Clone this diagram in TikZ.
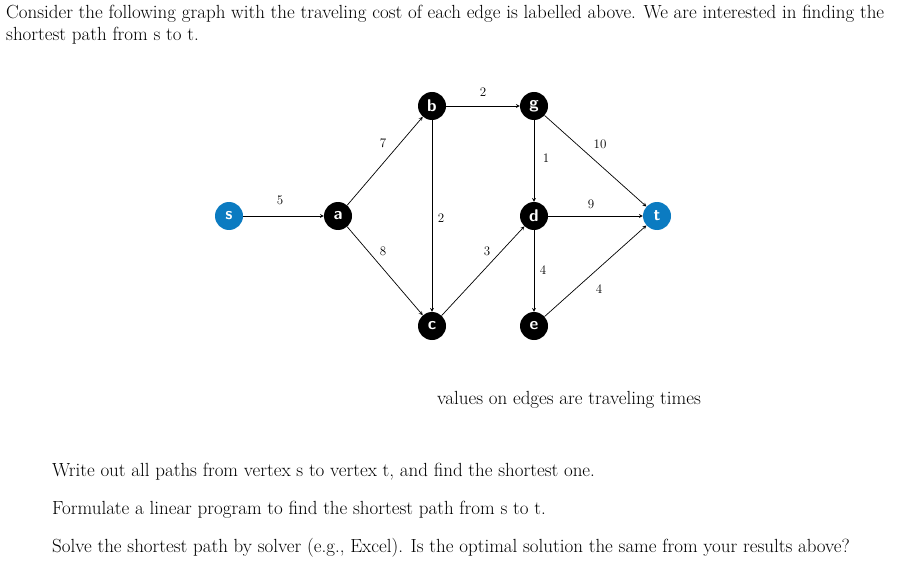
\documentclass[tikz,border=0pt]{standalone}
\usepackage{fontspec}
\definecolor{nb}{HTML}{0B7BC1}
\begin{document}
\begin{tikzpicture}[x=1pt,y=-1pt,
 v/.style={circle,fill=black,minimum size=28pt,inner sep=0pt,text=white,font=\sffamily\bfseries\fontsize{17}{17}\selectfont},
 st/.style={v,fill=nb},
 e/.style={-stealth,line width=0.7pt},
 w/.style={font=\fontsize{13}{13}\selectfont},
 txt/.style={anchor=north west,align=justify,font=\fontsize{19}{22}\selectfont,inner sep=0pt}]
\useasboundingbox (0,0) rectangle (907,588);
\node[txt,text width=878pt] (p) at (6,5) {Consider the following graph with the traveling cost of each edge is labelled above. We are interested in finding the shortest path from s to t.};
\node[st] (s) at (229,216) {s};
\node[v] (a) at (338,216) {a};
\node[v] (b) at (432,106) {b};
\node[v] (g) at (534,106) {g};
\node[v] (d) at (534,216) {d};
\node[st] (t) at (657,216) {t};
\node[v] (c) at (432,326) {c};
\node[v] (ee) at (534,326) {e};
\draw[e] (s) -- (a);
\draw[e] (a) -- (b);
\draw[e] (a) -- (c);
\draw[e] (b) -- (g);
\draw[e] (b) -- (c);
\draw[e] (c) -- (d);
\draw[e] (g) -- (d);
\draw[e] (g) -- (t);
\draw[e] (d) -- (t);
\draw[e] (d) -- (ee);
\draw[e] (ee) -- (t);
\node[w] (l1) at (280,200) {5};
\node[w] (l2) at (383,143) {7};
\node[w] (l3) at (383,251) {8};
\node[w] (l4) at (441,218) {2};
\node[w] (l5) at (483,92) {2};
\node[w] (l6) at (546,158) {1};
\node[w] (l7) at (600,144) {10};
\node[w] (l8) at (591,204) {9};
\node[w] (l9) at (487,251) {3};
\node[w] (l10) at (543,270) {4};
\node[w] (l11) at (599,289) {4};
\node[txt] (q0) at (437,391) {values on edges are traveling times};
\node[txt] (q1) at (52,463) {Write out all paths from vertex s to vertex t, and find the shortest one.};
\node[txt] (q2) at (52,501) {Formulate a linear program to find the shortest path from s to t.};
\node[txt,text width=832pt] (q3) at (52,538) {Solve the shortest path by solver (e.g., Excel). Is the optimal solution the same from your results above?};
\end{tikzpicture}
\end{document}
